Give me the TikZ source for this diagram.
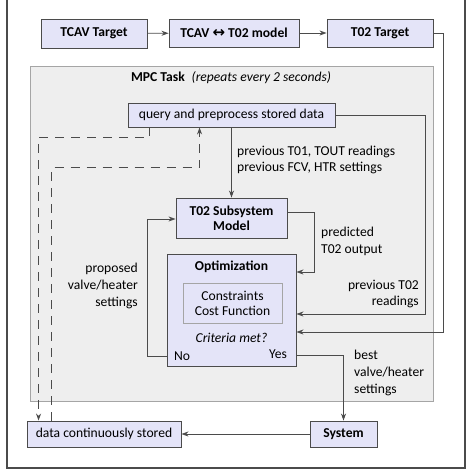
\documentclass[tikz,border=0pt]{standalone}
\usepackage{fontspec}
\setmainfont{Carlito}
\newfontfamily\arrowfont{DejaVu Sans}
\usepackage{tikz}
\usetikzlibrary{arrows.meta,positioning,calc}

\definecolor{boxfill}{RGB}{228,228,248}
\definecolor{boxline}{RGB}{75,75,75}
\definecolor{panelfill}{RGB}{238,238,238}
\definecolor{panelline}{RGB}{165,165,165}

\tikzset{
  block/.style={draw=boxline, fill=boxfill, line width=0.9pt, inner sep=2pt,
    font=\bfseries, align=center},
  plainblock/.style={block, font=\mdseries},
  note/.style={inner sep=0pt, align=left},
  flow/.style={->, draw=boxline, line width=0.8pt},
  store/.style={->, draw=boxline, line width=0.8pt, dash pattern=on 9pt off 7pt}
}

\begin{document}
\fontsize{13.6}{16.8}\selectfont
\begin{tikzpicture}[x=1pt, y=-1pt, >={Stealth[length=7pt,width=5pt]}]
  \useasboundingbox (0,0) rectangle (474,474);

  % Outer frame and MPC panel
  \draw[boxline, line width=1.2pt] (7,-5) -- (7,468) -- (465,468) -- (465,-5);
  \draw[panelline, fill=panelfill, line width=0.8pt] (30,66) rectangle (433,401);
  \node (title) at (231,78) {\textbf{MPC Task}\enspace\textit{(repeats every 2 seconds)}};

  % Define nodes
  \node[block, minimum width=106pt, minimum height=29pt] (tcav) at (94,33.5) {TCAV Target};
  \node[block, minimum width=130pt, minimum height=28pt] (model) at (234,33)
    {TCAV {\arrowfont\fontsize{15}{15}\selectfont\bfseries ↔} T02 model};
  \node[block, minimum width=106pt, minimum height=28pt] (target) at (380,33) {T02 Target};
  \node[plainblock, minimum width=207pt, minimum height=24pt] (query) at (231.5,115) {query and preprocess stored data};
  \node[block, minimum width=111pt, minimum height=40pt] (sub) at (231.5,218) {T02 Subsystem\\[-2pt]Model};
  \node[block, minimum width=129pt, minimum height=112pt] (opt) at (231.5,310) {};
  \node[font=\bfseries] (opttitle) at (231.5,267) {Optimization};
  \node[draw=panelline, fill=boxfill, line width=0.7pt, minimum width=99pt, minimum height=40pt, align=center]
    (cons) at (232.5,303) {Constraints\\[-2pt]Cost Function};
  \node[font=\itshape] (crit) at (231.5,338) {Criteria met?};
  \node (no) at (182,356) {No};
  \node (yes) at (278,354) {Yes};
  \node[block, minimum width=67pt, minimum height=26pt] (system) at (343.5,434) {System};
  \node[plainblock, minimum width=154pt, minimum height=26pt] (data) at (104,434) {data continuously stored};

  % Labels
  \node[note, anchor=west] (lblprev) at (237,160) {previous T01, TOUT readings\\previous FCV, HTR settings};
  \node[note, anchor=west] (lblpred) at (321,241) {predicted\\T02 output};
  \node[note, anchor=east, align=right] (lblread) at (419,294) {previous T02\\readings};
  \node[note, anchor=east, align=right] (lblprop) at (138,286) {proposed\\valve/heater\\settings};
  \node[note, anchor=west] (lblbest) at (354,373) {best\\valve/heater\\settings};

  % Draw arrows
  \draw[flow] (tcav) -- (model);
  \draw[flow] (model) -- (target);
  \draw[flow] (target.east) -- ++(10,0) |- ([yshift=-22pt]opt.east);
  \draw[flow] (query.east) -- ++(90,0) |- ([yshift=-4pt]opt.east);
  \draw[flow] (query) -- (sub);
  \draw[flow] ([yshift=6pt]sub.east) -- ++(27,0) |- ([yshift=38pt]opt.east);
  \draw[flow] ([yshift=-46pt]opt.west) -- ++(-19,0) |- ([yshift=-1pt]sub.west);
  \draw[flow] ([yshift=-45pt]opt.east) -| (system.north);
  \draw[flow] (system) -- (data);

  % Dashed storage loop
  \draw[store] ([xshift=22pt]query.south west) -- ++(0,10) -| ([xshift=12pt]data.north west);
  \draw[store] ([xshift=25pt]data.north west) -- ++(0,-253) -| ([xshift=72pt]query.south west);
\end{tikzpicture}
\end{document}
